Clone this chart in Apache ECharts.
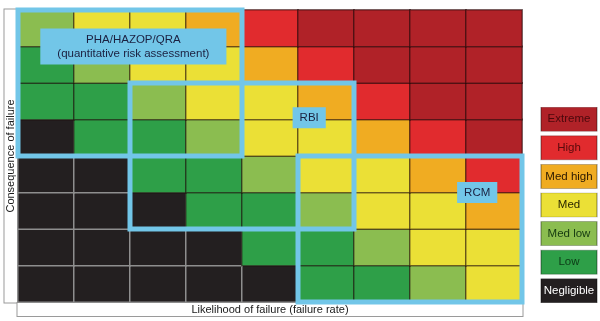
<!DOCTYPE html>
<html>
<head>
<meta charset="utf-8">
<script src="https://cdn.jsdelivr.net/npm/echarts@6/dist/echarts.min.js"></script>
<style>html,body{margin:0;padding:0;background:#fff;}#c{width:600px;height:321px;}</style>
</head>
<body>
<div id="c"></div>
<script>
// Categories
const likelihood = ['1', '2', '3', '4', '5', '6', '7', '8', '9'];
const consequence = ['1', '2', '3', '4', '5', '6', '7', '8']; // bottom -> top
const levels = ['Negligible', 'Low', 'Med low', 'Med', 'Med high', 'High', 'Extreme'];
const levelColors = ['#231f20', '#2e9f48', '#8bbd50', '#ebe036', '#f0ac22', '#e12b2e', '#b02228'];
const levelTextColors = ['#ffffff', '#0c3a16', '#153a10', '#2a2600', '#2a1800', '#5a0a0c', '#4a080c'];

// Risk level index per cell, rows listed from top (consequence 8) to bottom (consequence 1)
const consequence8 = [2, 3, 3, 4, 5, 6, 6, 6, 6];
const consequence7 = [1, 2, 3, 3, 4, 5, 6, 6, 6];
const consequence6 = [1, 1, 2, 3, 3, 4, 5, 6, 6];
const consequence5 = [0, 1, 1, 2, 3, 3, 4, 5, 6];
const consequence4 = [0, 0, 1, 1, 2, 3, 3, 4, 5];
const consequence3 = [0, 0, 0, 1, 1, 2, 3, 3, 4];
const consequence2 = [0, 0, 0, 0, 1, 1, 2, 3, 3];
const consequence1 = [0, 0, 0, 0, 0, 1, 1, 2, 3];

// Assessment regions (in cell units: x from left, y from bottom)
const regionNames = ['PHA/HAZOP/QRA\n(quantitative risk assessment)', 'RBI', 'RCM'];
const regionX0 = [0, 2, 5];
const regionX1 = [4, 6, 9];
const regionY0 = [4, 2, 0];
const regionY1 = [8, 6, 4];
const regionLabelX = [2.06, 5.2, 8.2];
const regionLabelY = [7.0, 5.05, 3.0];

const rows = [consequence1, consequence2, consequence3, consequence4, consequence5, consequence6, consequence7, consequence8];
const heatData = [];
rows.forEach((row, yi) => row.forEach((lvl, xi) => {
  heatData.push({
    value: [xi, yi, lvl],
    itemStyle: { borderColor: lvl === 0 ? '#8e8e8e' : 'rgba(30,10,10,0.55)' }
  });
}));

const font = '"Liberation Sans", Arial, sans-serif';
const blue = '#72c6e8';
const boxStyle = {
  fontFamily: font, fontSize: 11, color: '#1a1a1a', height: 13, lineHeight: 13,
  align: 'center', verticalAlign: 'middle',
  backgroundColor: '#fff', borderColor: '#9a9a9a', borderWidth: 1
};

const chart = echarts.init(document.getElementById('c'), null, { renderer: 'canvas' });
chart.setOption({
  animation: false,
  backgroundColor: '#ffffff',
  grid: [
    { left: 18, right: 78, top: 10, bottom: 19, outerBoundsMode: 'none', containLabel: false },
    { left: 541, width: 56, top: 105, height: 200, outerBoundsMode: 'none', containLabel: false }
  ],
  xAxis: [
    {
      type: 'category', data: likelihood, gridIndex: 0,
      axisLine: { show: false }, axisTick: { show: false }, axisLabel: { show: false }, splitLine: { show: false },
      name: '{b|Likelihood of failure (failure rate)}', nameLocation: 'middle', nameGap: 1,
      nameTextStyle: { rich: { b: Object.assign({}, boxStyle, { width: 505 }) } }
    },
    { type: 'value', min: 0, max: 9, gridIndex: 0, show: false },
    { type: 'category', data: ['legend'], gridIndex: 1, show: false }
  ],
  yAxis: [
    {
      type: 'category', data: consequence, gridIndex: 0,
      axisLine: { show: false }, axisTick: { show: false }, axisLabel: { show: false }, splitLine: { show: false },
      name: '{b|Consequence of failure}', nameLocation: 'middle', nameGap: 0.5,
      nameTextStyle: { rich: { b: Object.assign({}, boxStyle, { width: 293 }) } }
    },
    { type: 'value', min: 0, max: 8, gridIndex: 0, show: false },
    { type: 'category', data: levels, gridIndex: 1, show: false }
  ],
  visualMap: {
    type: 'piecewise', show: false, seriesIndex: 0, dimension: 2,
    pieces: levels.map((n, i) => ({ value: i, color: levelColors[i] }))
  },
  series: [
    {
      type: 'heatmap', xAxisIndex: 0, yAxisIndex: 0,
      data: heatData,
      itemStyle: { borderWidth: 1.5 },
      emphasis: { disabled: true }
    },
    {
      type: 'scatter', xAxisIndex: 1, yAxisIndex: 1, z: 5,
      data: [],
      markArea: {
        silent: true, z: 10,
        itemStyle: { color: 'rgba(0,0,0,0)', borderColor: blue, borderWidth: 5, opacity: 1 },
        label: { show: false },
        data: regionNames.map((n, i) => [
          { coord: [regionX0[i], regionY0[i]] },
          { coord: [regionX1[i], regionY1[i]] }
        ])
      }
    },
    {
      type: 'scatter', xAxisIndex: 1, yAxisIndex: 1, z: 20,
      symbolSize: 1, itemStyle: { color: 'rgba(0,0,0,0)', opacity: 1 },
      data: regionNames.map((n, i) => ({
        value: [regionLabelX[i], regionLabelY[i]], name: n,
        label: { padding: i === 0 ? [4, 17, 4, 17] : [4, 7, 3, 7] }
      })),
      label: {
        show: true, position: 'inside', formatter: p => p.name,
        fontFamily: font, fontSize: 11.5, lineHeight: 14, color: '#1b2040',
        backgroundColor: blue, align: 'center', verticalAlign: 'middle'
      }
    },
    {
      type: 'scatter', xAxisIndex: 2, yAxisIndex: 2,
      symbol: 'rect', symbolSize: [56, 24],
      data: levels.map((n, i) => ({
        value: ['legend', n],
        itemStyle: { color: levelColors[i] },
        label: { color: levelTextColors[i] }
      })),
      itemStyle: { borderColor: 'rgba(0,0,0,0.3)', borderWidth: 1, opacity: 1 },
      label: {
        show: true, position: 'inside', formatter: p => p.value[1],
        fontFamily: font, fontSize: 11.5
      }
    }
  ]
});
</script>
</body>
</html>
